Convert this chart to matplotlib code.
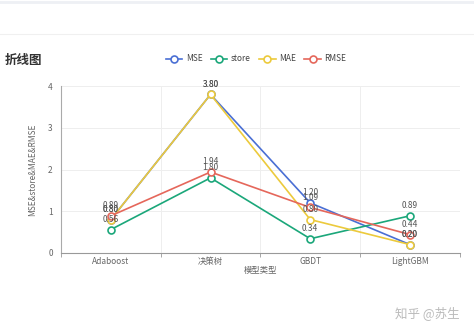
import matplotlib.pyplot as plt
import numpy as np

plt.rcParams['font.family'] = ['Noto Sans CJK SC', 'DejaVu Sans']

# data
models = ['Adaboost', '决策树', 'GBDT', 'LightGBM']
mse = [0.80, 3.80, 1.20, 0.20]
store = [0.56, 1.80, 0.34, 0.89]
mae = [0.80, 3.80, 0.80, 0.20]
rmse = [0.89, 1.94, 1.09, 0.44]

series = [('MSE', mse, '#4a6fd4'),
          ('store', store, '#1ba77a'),
          ('MAE', mae, '#ecca3c'),
          ('RMSE', rmse, '#e5675b')]

fig = plt.figure(figsize=(4.74, 3.35), dpi=100)
ax = fig.add_axes([0.1287, 0.245, 0.8413, 0.498])

x = np.arange(len(models)) + 0.5
for name, vals, color in series:
    ax.plot(x, vals, color=color, lw=1.2, marker='o', ms=5, mfc='white',
            mec=color, mew=1.2, label=name, zorder=3)
    for xi, v in zip(x, vals):
        ax.annotate(f'{v:.2f}', (xi, v), xytext=(0, 4), textcoords='offset points',
                    ha='center', va='bottom', fontsize=6, color='#555555', zorder=4)

ax.set_xlim(0, 4)
ax.set_ylim(0, 4)
ax.set_xticks(x)
ax.set_xticklabels(models)
ax.set_xticks(np.arange(0, 5), minor=True)
ax.set_yticks([0, 1, 2, 3, 4])
ax.tick_params(axis='x', which='major', length=0, labelsize=6, colors='#666666', pad=3)
ax.tick_params(axis='x', which='minor', length=3, color='#999999')
ax.tick_params(axis='y', length=0, labelsize=6, colors='#666666', pad=6)
ax.grid(True, which='minor', axis='x', color='#eeeeee', lw=0.7)
ax.grid(True, which='major', axis='y', color='#eeeeee', lw=0.7)
for s in ['top', 'right']:
    ax.spines[s].set_visible(False)
ax.spines['left'].set_color('#aaaaaa')
ax.spines['bottom'].set_color('#999999')

ax.set_xlabel('模型类型', fontsize=6, color='#666666', labelpad=0)
ax.set_ylabel('MSE&store&MAE&RMSE', fontsize=6, color='#666666', labelpad=8)

fig.text(0.01, 0.82, '折线图', fontsize=9, fontweight='bold', color='#333333', va='center')
fig.legend(loc='center', bbox_to_anchor=(0.54, 0.824), ncol=4, frameon=False,
           fontsize=6, handlelength=2.0, handletextpad=0.4, columnspacing=1.0,
           labelcolor='#444444')

fig.add_artist(plt.Line2D([0, 1], [0.9, 0.9], color='#f0f0f0', lw=0.8))
fig.add_artist(plt.Line2D([0, 1], [0.993, 0.993], color='#eef0f4', lw=2))
fig.text(0.97, 0.065, '知乎 @苏生', fontsize=9, color='#bbbbbb', ha='right', va='center')

fig.savefig('out.png', dpi=100, facecolor='white')
